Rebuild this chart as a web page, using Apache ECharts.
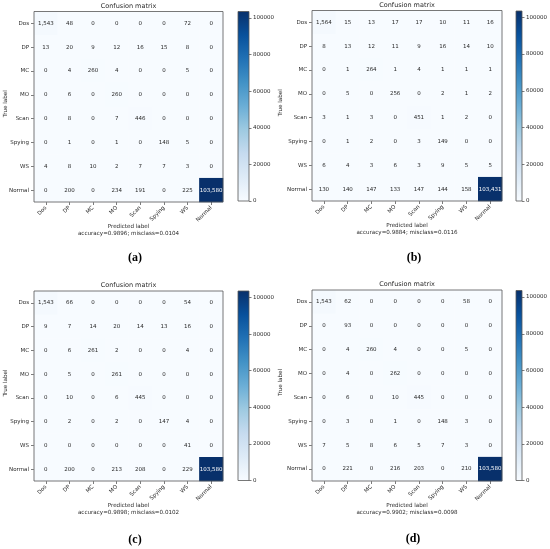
<!DOCTYPE html>
<html><head><meta charset="utf-8">
<script src="https://cdn.jsdelivr.net/npm/echarts@6/dist/echarts.min.js"></script>
<style>html,body{margin:0;padding:0;background:#fff}#c{width:550px;height:549px}</style>
</head><body><div id="c"></div>
<script>
const classes = ['Dos','DP','MC','MO','Scan','Spying','WS','Normal'];

const cmA = [
  [1543, 48, 0, 0, 0, 0, 72, 0],
  [13, 20, 9, 12, 16, 15, 8, 0],
  [0, 4, 260, 4, 0, 0, 5, 0],
  [0, 6, 0, 260, 0, 0, 0, 0],
  [0, 8, 0, 7, 446, 0, 0, 0],
  [0, 1, 0, 1, 0, 148, 5, 0],
  [4, 8, 10, 2, 7, 7, 3, 0],
  [0, 200, 0, 234, 191, 0, 225, 103580]
];
const cmB = [
  [1564, 15, 13, 17, 17, 10, 11, 16],
  [8, 13, 12, 11, 9, 16, 14, 10],
  [0, 1, 264, 1, 4, 1, 1, 1],
  [0, 5, 0, 256, 0, 2, 1, 2],
  [3, 1, 3, 0, 451, 1, 2, 0],
  [0, 1, 2, 0, 3, 149, 0, 0],
  [6, 4, 3, 6, 3, 9, 5, 5],
  [130, 140, 147, 133, 147, 144, 158, 103431]
];
const cmC = [
  [1543, 66, 0, 0, 0, 0, 54, 0],
  [9, 7, 14, 20, 14, 13, 16, 0],
  [0, 6, 261, 2, 0, 0, 4, 0],
  [0, 5, 0, 261, 0, 0, 0, 0],
  [0, 10, 0, 6, 445, 0, 0, 0],
  [0, 2, 0, 2, 0, 147, 4, 0],
  [0, 0, 0, 0, 0, 0, 41, 0],
  [0, 200, 0, 213, 208, 0, 229, 103580]
];
const cmD = [
  [1543, 62, 0, 0, 0, 0, 58, 0],
  [0, 93, 0, 0, 0, 0, 0, 0],
  [0, 4, 260, 4, 0, 0, 5, 0],
  [0, 4, 0, 262, 0, 0, 0, 0],
  [0, 6, 0, 10, 445, 0, 0, 0],
  [0, 3, 0, 1, 0, 148, 3, 0],
  [7, 5, 8, 6, 5, 7, 3, 0],
  [0, 221, 0, 216, 203, 0, 210, 103580]
];
const matrices = [cmA, cmB, cmC, cmD];
const accuracyLabels = [
  'accuracy=0.9896; misclass=0.0104',
  'accuracy=0.9884; misclass=0.0116',
  'accuracy=0.9898; misclass=0.0102',
  'accuracy=0.9902; misclass=0.0098'
];
const captions = ['(a)', '(b)', '(c)', '(d)'];
const titleText = 'Confusion matrix';
const xName = 'Predicted label';
const yName = 'True label';
const colorbarTicks = [0, 20000, 40000, 60000, 80000, 100000];
const blues = ['#f7fbff','#deebf7','#c6dbef','#9ecae1','#6baed6','#4292c6','#2171b5','#08519c','#08306b'];

// layout (pixels)
const layout = [
  {mx: 34,  my: 11.5, mw: 189, mh: 190.5, cx: 238, cy: 11.5, ch: 189.5, ylx: 6,   capx: 135, capy: 258},
  {mx: 312, my: 10.5, mw: 190, mh: 190.5, cx: 516, cy: 11,   ch: 190,   ylx: 281, capx: 414, capy: 258},
  {mx: 34,  my: 291,  mw: 189, mh: 190,   cx: 238, cy: 291,  ch: 189.5, ylx: 6,   capx: 135, capy: 540},
  {mx: 312, my: 290,  mw: 190, mh: 191,   cx: 516, cy: 290.5,ch: 190,   ylx: 281, capx: 413, capy: 539}
];

const FONT = 'DejaVu Sans';
const TXT = '#2a2a2a';
const grids = [], xAxes = [], yAxes = [], series = [], visualMaps = [], graphics = [];

matrices.forEach((cm, i) => {
  const L = layout[i];
  let maxV = 0;
  cm.forEach(r => r.forEach(v => { if (v > maxV) maxV = v; }));
  const data = [];
  cm.forEach((row, r) => row.forEach((v, c) => {
    data.push({value: [c, r, v], label: {color: v > maxV / 2 ? '#ffffff' : TXT}});
  }));
  // matrix grid
  grids.push({left: L.mx, top: L.my, width: L.mw, height: L.mh, show: true, z: 5,
    backgroundColor: 'transparent', borderColor: '#555', borderWidth: 0.8});
  xAxes.push({type: 'category', gridIndex: 2 * i, data: classes,
    axisLine: {show: false}, splitLine: {show: false},
    axisTick: {show: true, alignWithLabel: true, length: 3, lineStyle: {color: '#444', width: 0.7}},
    axisLabel: {rotate: 45, fontSize: 5.5, fontFamily: FONT, color: TXT, margin: 5, interval: 0}});
  yAxes.push({type: 'category', gridIndex: 2 * i, data: classes, inverse: true,
    axisLine: {show: false}, splitLine: {show: false},
    axisTick: {show: true, alignWithLabel: true, length: 3, lineStyle: {color: '#444', width: 0.7}},
    axisLabel: {fontSize: 5.5, fontFamily: FONT, color: TXT, margin: 5, interval: 0}});
  series.push({type: 'heatmap', xAxisIndex: 2 * i, yAxisIndex: 2 * i, data: data,
    itemStyle: {borderWidth: 0},
    label: {show: true, fontSize: 5.5, fontFamily: FONT,
      formatter: p => p.value[2].toLocaleString('en-US')},
    emphasis: {disabled: true}, animation: false});
  visualMaps.push({type: 'continuous', show: false, seriesIndex: 2 * i, dimension: 2,
    min: 0, max: maxV, inRange: {color: blues}});
  // colorbar grid
  grids.push({left: L.cx, top: L.cy, width: 11, height: L.ch, show: true, z: 5,
    backgroundColor: 'transparent', borderColor: '#555', borderWidth: 0.8});
  xAxes.push({type: 'category', gridIndex: 2 * i + 1, data: ['cb'], show: false});
  yAxes.push({type: 'value', gridIndex: 2 * i + 1, min: 0, max: maxV, position: 'right',
    axisLine: {show: false}, splitLine: {show: false},
    axisTick: {show: true, length: 2.5, customValues: colorbarTicks, lineStyle: {color: '#444', width: 0.7}},
    axisLabel: {fontSize: 5.5, fontFamily: FONT, color: TXT, margin: 4, customValues: colorbarTicks,
      formatter: v => String(v)}});
  series.push({type: 'bar', xAxisIndex: 2 * i + 1, yAxisIndex: 2 * i + 1, data: [maxV],
    barWidth: '100%', silent: true, animation: false,
    itemStyle: {color: {type: 'linear', x: 0, y: 1, x2: 0, y2: 0,
      colorStops: blues.map((c, k) => ({offset: k / (blues.length - 1), color: c}))}}});
  // texts
  const cxm = L.mx + L.mw / 2;
  const by = L.my + L.mh;
  const txt = (t, x, y, size, extra) => Object.assign({type: 'text', x: x, y: y, silent: true,
    style: {text: t, fill: TXT, fontSize: size, fontFamily: FONT,
      align: 'center', verticalAlign: 'middle', textAlign: 'center', textVerticalAlign: 'middle'}}, extra || {});
  graphics.push(txt(titleText, cxm, L.my - 5.5, 6.5));
  graphics.push(txt(xName, cxm, by + 25, 5.6));
  graphics.push(txt(accuracyLabels[i], cxm, by + 31.5, 5.6));
  graphics.push(txt(yName, L.ylx, L.my + L.mh / 2 - 3, 5.6, {rotation: Math.PI / 2}));
  const cap = txt(captions[i], L.capx, L.capy, 12);
  cap.style.fill = '#000';
  cap.style.fontFamily = 'Liberation Serif';
  cap.style.fontWeight = 'bold';
  graphics.push(cap);
});

const chart = echarts.init(document.getElementById('c'), null, {renderer: 'canvas'});
chart.setOption({
  animation: false,
  backgroundColor: '#ffffff',
  grid: grids, xAxis: xAxes, yAxis: yAxes, visualMap: visualMaps,
  series: series, graphic: graphics
});
</script></body></html>
